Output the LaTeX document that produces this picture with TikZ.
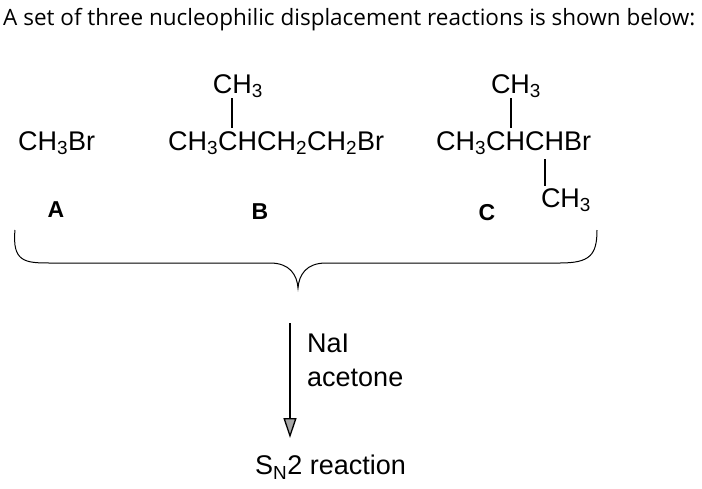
\documentclass[tikz,border=0pt]{standalone}
\usepackage{fontspec}
\setmainfont{Liberation Sans}
\newfontfamily\titlefont{Open Sans}
\usetikzlibrary{arrows.meta}
\newcommand{\sbs}[1]{\textsubscript{#1}}
\begin{document}
\begin{tikzpicture}[x=1pt,y=-1pt,
  chem/.style={inner sep=0pt,font=\fontsize{27}{32}\selectfont},
  lbl/.style={inner sep=0pt,font=\fontsize{23}{28}\selectfont\bfseries},
  bond/.style={line width=1.3pt}]
\useasboundingbox[fill=white] (0,0) rectangle (702,488);
\node[anchor=west,inner sep=0pt,font=\titlefont\fontsize{22.5}{27}\selectfont] (title) at (3,20) {A set of three nucleophilic displacement reactions is shown below:};
% A
\node[chem,anchor=west] (a) at (18,143) {CH\sbs{3}Br};
\node[lbl] (la) at (56,210) {A};
% B
\node[chem,anchor=west] (b) at (168,143) {CH\sbs{3}CHCH\sbs{2}CH\sbs{2}Br};
\node[chem] (bm) at (238,86) {CH\sbs{3}};
\coordinate (b1) at (232,98); \coordinate (b2) at (232,128);
\draw[bond] (b1) -- (b2);
\node[lbl] (lb) at (260,212) {B};
% C
\node[chem,anchor=west] (c) at (436,143) {CH\sbs{3}CHCHBr};
\node[chem] (cm) at (516,86) {CH\sbs{3}};
\coordinate (c1) at (511,98); \coordinate (c2) at (511,128);
\draw[bond] (c1) -- (c2);
\coordinate (c3) at (545,159); \coordinate (c4) at (545,186);
\draw[bond] (c3) -- (c4);
\node[chem] (cb) at (566,200) {CH\sbs{3}};
\node[lbl] (lc) at (487,213) {C};
% brace
\draw[line width=1pt] (15,230) .. controls (12,262) and (25,263) .. (50,263)
  -- (270,263) .. controls (290,263) and (297,275) .. (298,288)
  .. controls (299,275) and (306,263) .. (326,263) -- (560,263)
  .. controls (590,263) and (597,255) .. (597,230);
% arrow
\coordinate (r1) at (290,323); \coordinate (r2) at (290,438);
\draw[line width=1.3pt,draw=black,-{Triangle[length=20pt,width=13pt,fill=gray!70]}] (r1) -- (r2);
\node[chem,anchor=west] (nai) at (307,343) {NaI};
\node[chem,anchor=west] (ac) at (307,378) {acetone};
\node[chem,anchor=west] (sn) at (255,467) {S\sbs{N}2 reaction};
\end{tikzpicture}
\end{document}
